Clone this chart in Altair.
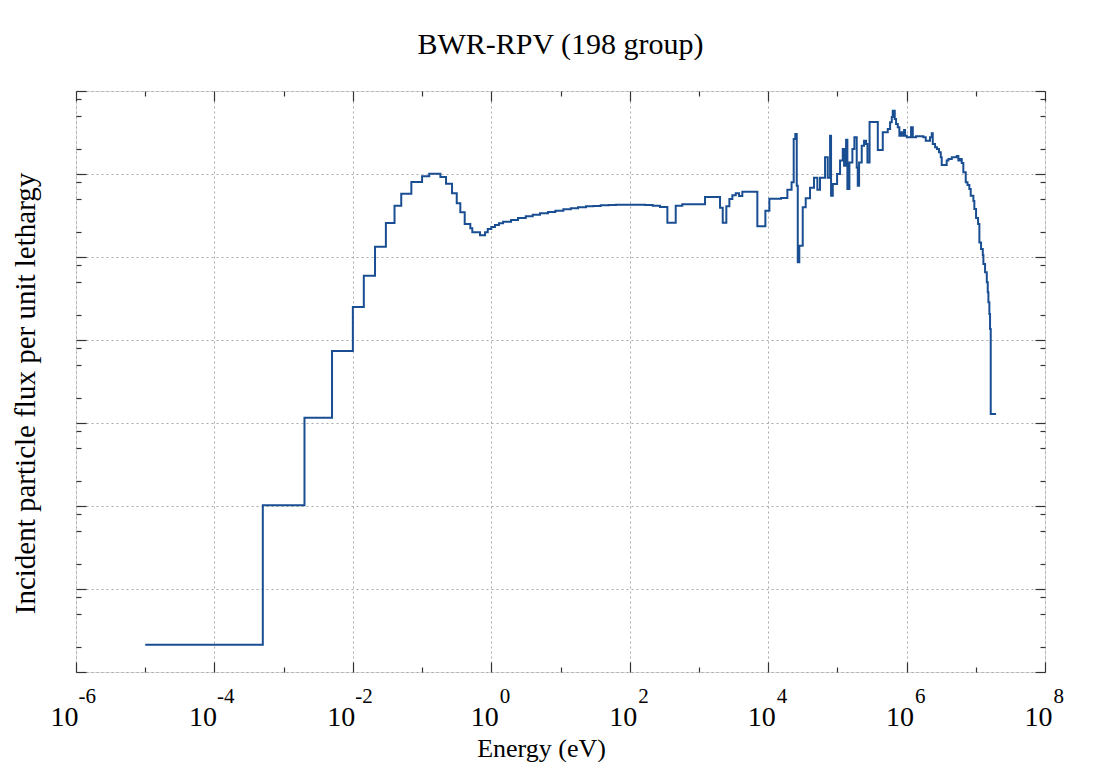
import altair as alt
import pandas as pd

# Lower group-boundary energies (eV) and flux per unit lethargy (arbitrary units)
energy_lower = [
    1.0e-5, 5.0e-4, 2.0e-3, 5.0e-3, 1.0e-2, 1.44e-2, 2.09e-2, 3.0e-2, 4.0e-2, 5.0e-2,
    7.0e-2, 0.1, 0.127, 0.184, 0.222, 0.271, 0.317, 0.357, 0.413, 0.498,
    0.532, 0.687, 0.813, 0.889, 1.0, 1.13, 1.29, 1.48, 1.93, 2.43,
    3.15, 3.97, 5.06, 6.61, 8.42, 11.0, 14.1, 17.9, 23.4, 29.8,
    38.1, 49.8, 63.4, 166, 215, 274, 350, 462, 575, 1225,
    2018, 2208, 2489, 2754, 3041, 3405, 3802, 4236, 6982, 9120,
    1.042e4, 1.538e4, 1.897e4, 2.18e4, 2.34e4, 2.47e4, 2.59e4, 2.68e4, 2.82e4, 3.16e4,
    3.49e4, 4.03e4, 4.60e4, 5.14e4, 5.62e4, 6.64e4, 7.26e4, 7.85e4, 8.11e4, 8.59e4,
    9.91e4, 1.094e5, 1.197e5, 1.25e5, 1.337e5, 1.396e5, 1.493e5, 1.648e5, 1.762e5, 1.905e5,
    1.972e5, 2.06e5, 2.25e5, 2.43e5, 2.60e5, 2.72e5, 2.92e5, 3.84e5, 4.53e5, 5.35e5,
    5.78e5, 6.11e5, 6.31e5, 6.75e5, 7.05e5, 7.46e5, 7.87e5, 8.24e5, 8.81e5, 9.20e5,
    9.51e5, 1.007e6, 1.161e6, 1.230e6, 1.371e6, 1.749e6, 1.892e6, 2.18e6, 2.31e6, 2.39e6,
    2.58e6, 2.75e6, 2.94e6, 3.12e6, 3.22e6, 3.80e6, 4.02e6, 4.50e6, 5.31e6, 5.60e6,
    5.93e6, 6.27e6, 6.61e6, 7.16e6, 7.60e6, 8.07e6, 8.45e6, 9.23e6, 9.53e6, 1.009e7,
    1.079e7, 1.127e7, 1.191e7, 1.262e7, 1.288e7, 1.362e7, 1.442e7, 1.489e7, 1.521e7, 1.571e7,
    1.607e7, 1.644e7,
]
flux = [
    2.13e-6, 1.02e-4, 1.16e-3, 7.37e-3, 2.50e-2, 5.95e-2, 0.133, 0.257, 0.415, 0.579,
    0.801, 0.938, 1.008, 0.920, 0.764, 0.585, 0.444, 0.346, 0.250, 0.222,
    0.199, 0.183, 0.199, 0.217, 0.230, 0.243, 0.255, 0.266, 0.279, 0.295,
    0.309, 0.323, 0.336, 0.348, 0.361, 0.376, 0.386, 0.397, 0.408, 0.411,
    0.420, 0.423, 0.427, 0.423, 0.415, 0.400, 0.259, 0.415, 0.431, 0.528,
    0.393, 0.259, 0.408, 0.500, 0.554, 0.585, 0.543, 0.612, 0.234, 0.361,
    0.504, 0.514, 0.647, 0.794, 2.64, 3.03, 0.723, 0.0863, 0.137, 0.397,
    0.509, 0.684, 0.902, 0.647, 0.902, 1.59, 0.902, 2.89, 0.548, 0.758,
    1.0, 1.45, 2.0, 1.26, 2.59, 0.660, 1.38, 2.0, 2.77, 1.20,
    0.723, 1.38, 2.19, 2.52, 2.30, 1.38, 4.23, 1.95, 3.18, 3.48,
    4.20, 4.86, 5.79, 4.60, 4.00, 3.65, 2.89, 3.18, 2.89, 3.39,
    2.89, 2.77, 3.65, 2.77, 2.85, 2.77, 2.52, 2.77, 3.09, 2.30,
    2.10, 2.0, 1.83, 1.59, 1.28, 1.45, 1.52, 1.59, 1.65, 1.45,
    1.52, 1.36, 1.05, 0.794, 0.737, 0.660, 0.548, 0.473, 0.379, 0.295,
    0.250, 0.150, 0.125, 0.106, 0.0824, 0.0654, 0.0496, 0.0376, 0.0285, 0.0206,
    0.0136, 1.28e-3,
]
energy_max = 1.964e7

# Axis tick values
x_decades = [10.0 ** k for k in range(-6, 9)]
x_labelled = [10.0 ** k for k in range(-6, 9, 2)]
y_ticks = sorted([10.0 ** k for k in range(-6, 2)] +
                 [m * 10.0 ** k for k in range(-6, 1) for m in (2, 5, 8)])

df = pd.DataFrame({
    "energy": energy_lower + [energy_max],
    "flux": flux + [flux[-1]],
})

FONT = "Liberation Serif"
xscale = alt.Scale(type="log", domain=[1e-6, 1e8], nice=False)
yscale = alt.Scale(type="log", domain=[1e-6, 10], nice=False)

x_major_test = "abs(round(log(datum.value)/LN10)) % 2 == 0"
y_major_test = "abs(log(datum.value)/LN10 - round(log(datum.value)/LN10)) < 0.01"
x_tick_expr = {"expr": x_major_test + " ? -10 : -5"}
y_tick_expr = {"expr": y_major_test + " ? -10 : -5"}

tick_style = dict(tickColor="#333333", tickWidth=1.2, domain=False, labels=False)

base = alt.Chart(df)

main = base.mark_line(interpolate="step-after", color="#1a4e92", strokeWidth=2).encode(
    x=alt.X("energy:Q", scale=xscale, axis=alt.Axis(
        orient="bottom", values=x_decades, tickSize=x_tick_expr, grid=True,
        gridColor="#a8a8a8", gridDash=[2, 3], gridWidth=1,
        gridOpacity={"condition": {"test": x_major_test, "value": 1}, "value": 0},
        title=None, **tick_style)),
    y=alt.Y("flux:Q", scale=yscale, axis=alt.Axis(
        orient="left", values=y_ticks, tickSize=y_tick_expr, grid=True,
        gridColor="#a8a8a8", gridDash=[2, 3], gridWidth=1,
        gridOpacity={"condition": {"test": y_major_test, "value": 1}, "value": 0},
        title="Incident particle flux per unit lethargy", titleFont=FONT,
        titleFontSize=29, titleFontWeight="normal", titleColor="black",
        titleAngle=270, titleX=-42, titleY=302, titleAlign="center",
        titleBaseline="alphabetic", **tick_style)),
)

labels_base = base.mark_line(opacity=0).encode(
    x=alt.X("energy:Q", scale=xscale, axis=alt.Axis(
        orient="bottom", values=x_labelled, ticks=False, domain=False, grid=False,
        labelExpr="'10'", labelFont=FONT, labelFontSize=28, labelColor="black",
        labelAlign="right", labelBaseline="alphabetic", labelPadding=53,
        labelOffset={"condition": {"test": "datum.value < 1", "value": 2}, "value": 7},
        labelFlush=False, labelOverlap=False, labelBound=False,
        title="Energy (eV)", titleFont=FONT, titleFontSize=26, titleFontWeight="normal",
        titleColor="black", titleX=465, titleY=84, titleAlign="center",
        titleBaseline="alphabetic")),
    y=alt.Y("flux:Q", scale=yscale, axis=alt.Axis(
        orient="right", values=y_ticks, tickSize=y_tick_expr, grid=False,
        title=None, **tick_style)),
)

labels_exp = base.mark_line(opacity=0).encode(
    x=alt.X("energy:Q", scale=xscale, axis=alt.Axis(
        orient="bottom", values=x_labelled, ticks=False, domain=False, grid=False,
        labelExpr="'' + round(log(datum.value)/LN10)", labelFont=FONT,
        labelFontSize=21, labelColor="black", labelAlign="left",
        labelBaseline="alphabetic", labelPadding=30,
        labelOffset={"condition": {"test": "datum.value < 1", "value": 2}, "value": 8},
        labelFlush=False, labelOverlap=False, labelBound=False, title=None)),
    y=alt.Y("flux:Q", scale=yscale, axis=None),
)

top_axis = base.mark_line(opacity=0).encode(
    x=alt.X("energy:Q", scale=xscale, axis=alt.Axis(
        orient="top", values=x_decades, tickSize=x_tick_expr, grid=False,
        title=None, **tick_style)),
    y=alt.Y("flux:Q", scale=yscale, axis=None),
)

chart = alt.layer(main, labels_base, labels_exp, top_axis).resolve_axis(
    x="independent", y="independent"
).properties(
    width=969,
    height=581,
    title=alt.TitleParams("BWR-RPV (198 group)", font=FONT, fontSize=30,
                          fontWeight="normal", color="black", anchor="middle",
                          frame="group", offset=6, baseline="alphabetic"),
    autosize=alt.AutoSizeParams(type="none"),
    padding={"left": 68, "top": 83, "right": 40, "bottom": 90},
).configure_view(
    stroke="#111111", strokeWidth=1.6
).configure(
    background="white"
)

chart.save("out.html", embed_options={"renderer": "svg", "actions": False})
